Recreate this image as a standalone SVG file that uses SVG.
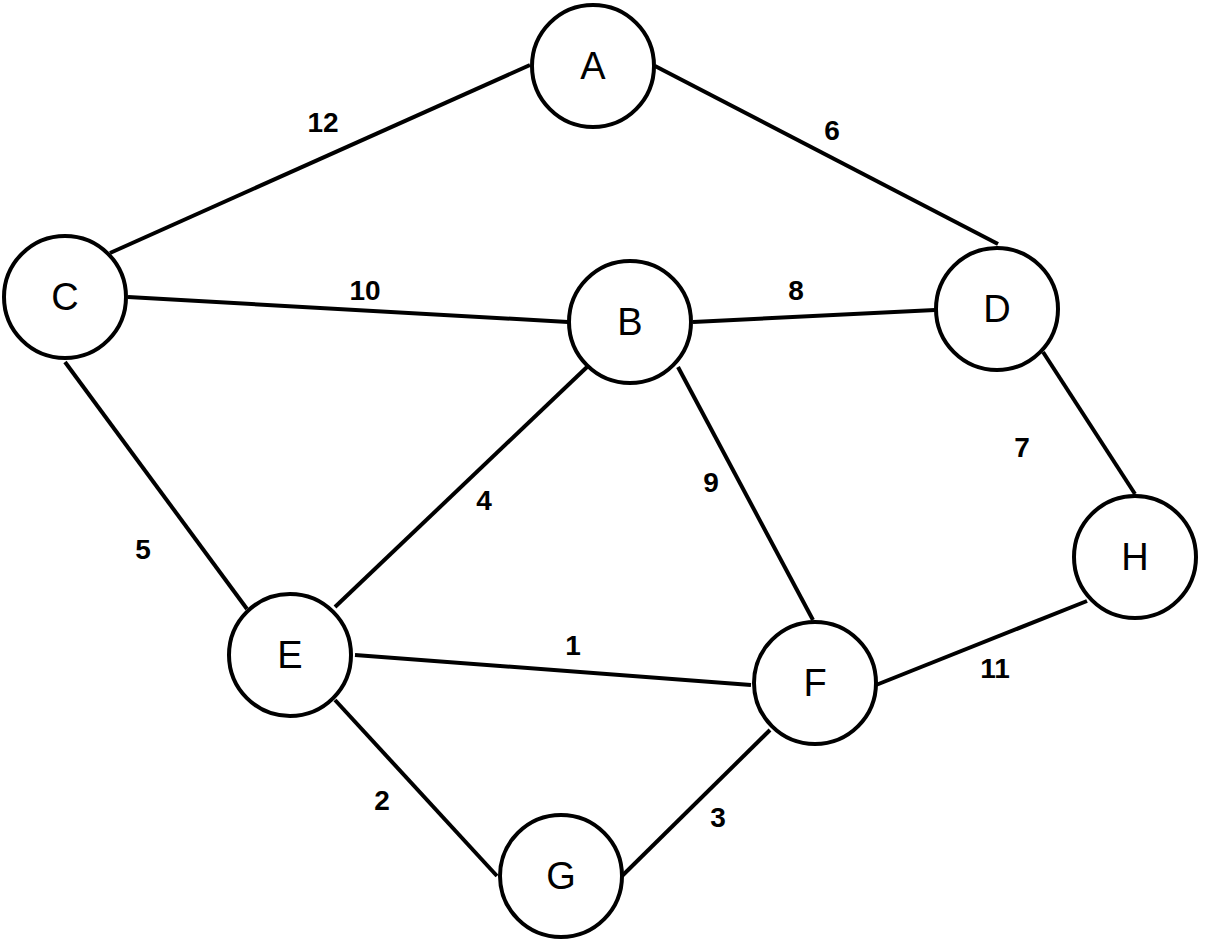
<svg xmlns="http://www.w3.org/2000/svg" width="1212" height="951" viewBox="0 0 1212 951">
<style>
.n{fill:#fff;stroke:#000;stroke-width:4}
.t{font-family:"Liberation Sans",Arial,sans-serif;font-size:38px;text-anchor:middle;dominant-baseline:central}
.e line{stroke:#000;stroke-width:4}
.w{font-family:"Liberation Sans",Arial,sans-serif;font-size:28px;font-weight:bold;text-anchor:middle;dominant-baseline:central}
</style>
<rect width="1212" height="951" fill="#fff"/>
<g id="edges" class="e">
<line x1="110" y1="253" x2="530" y2="65"/>
<line x1="655" y1="66" x2="998" y2="244"/>
<line x1="128" y1="297" x2="568" y2="322"/>
<line x1="693" y1="322" x2="935" y2="310"/>
<line x1="1043" y1="352" x2="1135" y2="494"/>
<line x1="65" y1="362" x2="247" y2="609"/>
<line x1="335" y1="607" x2="587" y2="367"/>
<line x1="678" y1="367" x2="813" y2="620"/>
<line x1="355" y1="655" x2="751" y2="685"/>
<line x1="1087" y1="601" x2="876" y2="685"/>
<line x1="335" y1="700" x2="497" y2="876"/>
<line x1="622" y1="876" x2="770" y2="730"/>
</g>
<g id="weights">
<text class="w" x="323" y="122">12</text>
<text class="w" x="832" y="130">6</text>
<text class="w" x="365" y="290">10</text>
<text class="w" x="796" y="290">8</text>
<text class="w" x="1022" y="447">7</text>
<text class="w" x="143" y="549">5</text>
<text class="w" x="484" y="500">4</text>
<text class="w" x="711" y="482">9</text>
<text class="w" x="573" y="645">1</text>
<text class="w" x="995" y="668">11</text>
<text class="w" x="382" y="800">2</text>
<text class="w" x="718" y="817">3</text>
</g>
<g id="A"><circle class="n" cx="593" cy="66" r="61"/><text class="t" x="593" y="66">A</text></g>
<g id="C"><circle class="n" cx="65" cy="297" r="61"/><text class="t" x="65" y="297">C</text></g>
<g id="B"><circle class="n" cx="630" cy="322" r="61"/><text class="t" x="630" y="322">B</text></g>
<g id="D"><circle class="n" cx="997" cy="309" r="61"/><text class="t" x="997" y="309">D</text></g>
<g id="H"><circle class="n" cx="1135" cy="557" r="61"/><text class="t" x="1135" y="557">H</text></g>
<g id="E"><circle class="n" cx="290" cy="655" r="61"/><text class="t" x="290" y="655">E</text></g>
<g id="F"><circle class="n" cx="815" cy="683" r="61"/><text class="t" x="815" y="683">F</text></g>
<g id="G"><circle class="n" cx="561" cy="876" r="61"/><text class="t" x="561" y="876">G</text></g>
</svg>
